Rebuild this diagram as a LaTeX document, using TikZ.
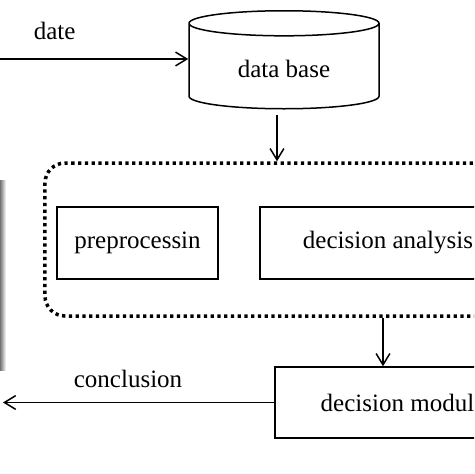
\documentclass[tikz,border=0pt]{standalone}
\usepackage{fontspec}
\setmainfont{Liberation Serif}
\usetikzlibrary{shapes.geometric,arrows.meta}

\begin{document}
\begin{tikzpicture}[x=0.4pt,y=-0.4pt,line width=0.6pt,
  box/.style={draw,rectangle,inner sep=0pt},
  grpframe/.style={draw,rectangle,rounded corners=8pt,line width=1.4pt,dash pattern=on 1.3pt off 1.4pt},
  arr/.style={-{Straight Barb[length=4.5pt,width=5.5pt]}},
  lbl/.style={inner sep=0pt}]
\tikzstyle{every node}+=[font=\fontsize{10}{12}\selectfont]
\useasboundingbox (0,0) rectangle (474,474);
\clip (0,0) rectangle (474,474);
% edge of the neighbouring part
\shade[left color=black!55,right color=white,draw=none] (0,180) rectangle (6,370);
% data base
\node[cylinder,shape border rotate=90,draw,aspect=0.23,minimum width=76pt,minimum height=39.2pt,
  anchor=north] (db) at (284,10) {data base};
% dotted frame with the two steps
\node[grpframe,minimum width=198pt,minimum height=61.2pt] (grp) at (292.5,239.5) {};
\node[box,minimum width=64.4pt,minimum height=28.8pt] (pre) at (137.5,243) {preprocessin};
\node[box,minimum width=102.4pt,minimum height=28.8pt] (ana) at (388,243) {decision analysis};
% decision module
\node[box,minimum width=102.4pt,minimum height=28.4pt] (dm) at (403,402.5) {decision module};
% arrows
\coordinate (in) at (0,59);
\coordinate (out) at (3,402.5);
\draw[arr] (in) -- node[lbl,pos=0.29,above=7.6pt] {date} (in -| db.west);
\draw[arr,shorten <=2pt] ([xshift=-2.8pt]db.south) -- ([xshift=-2.8pt]db.south |- grp.north);
\draw[arr] ([xshift=-8pt]dm.north |- grp.south) -- ([xshift=-8pt]dm.north);
\draw[arr] (dm.west) -- node[lbl,pos=0.539,above=5.6pt] {conclusion} (out);
\end{tikzpicture}
\end{document}
